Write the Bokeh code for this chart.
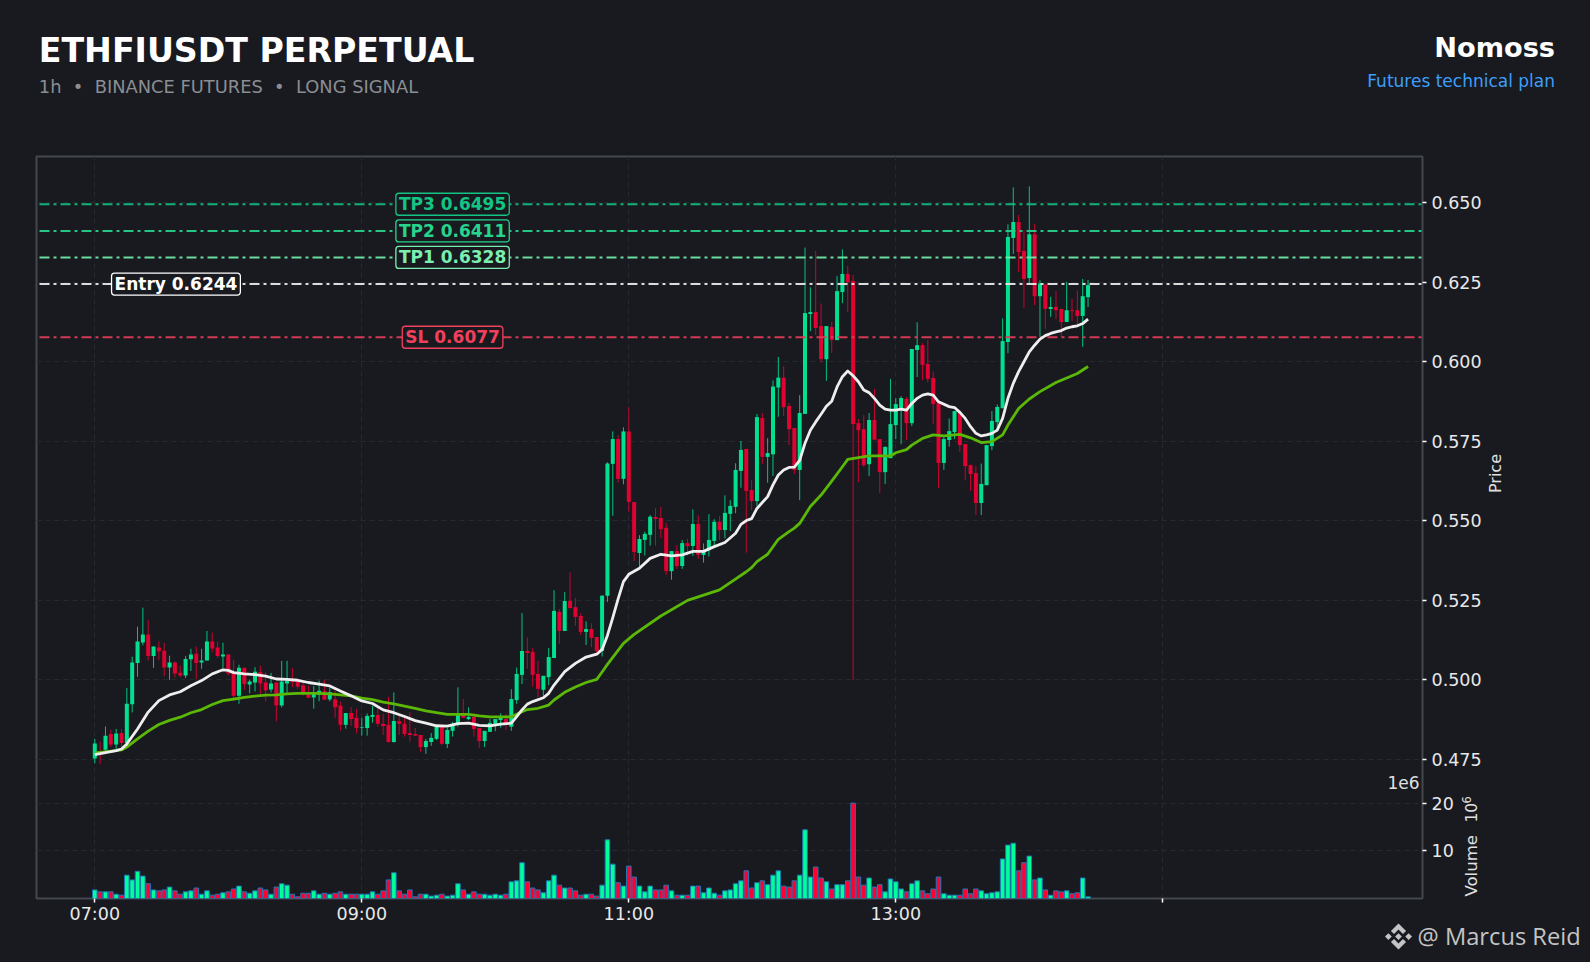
from bokeh.plotting import figure
from bokeh.models import Range1d, FixedTicker, Label, ColumnDataSource
from bokeh.embed import file_html
from bokeh.resources import INLINE

TITLE = "ETHFIUSDT PERPETUAL"
SUBTITLE = "1h\u00a0\u00a0•\u00a0\u00a0BINANCE FUTURES\u00a0\u00a0•\u00a0\u00a0LONG SIGNAL"
BRAND = "Nomoss"
BRAND_SUB = "Futures technical plan"
WATERMARK = "@ Marcus Reid"

x_ticks = [0, 50, 100, 150, 200]
x_tick_labels = ["07:00", "09:00", "11:00", "13:00", ""]
price_ticks = [0.475, 0.5, 0.525, 0.55, 0.575, 0.6, 0.625, 0.65]
volume_ticks = [10e6, 20e6]

# open, high, low, close
ohlc = [
(.4753,.4815,.4738,.4800),(.4776,.4806,.4735,.4768),(.4781,.4854,.4776,.4825),(.4830,.4843,.4789,.4797),
(.4797,.4846,.4783,.4832),(.4833,.4846,.4789,.4802),(.4802,.4975,.4799,.4925),(.4924,.5073,.4898,.5055),
(.5053,.5167,.5010,.5121),(.5118,.5227,.5109,.5143),(.5143,.5189,.5061,.5075),(.5075,.5105,.5038,.5105),
(.5102,.5121,.5062,.5090),(.5092,.5117,.5011,.5039),(.5039,.5076,.5000,.5055),(.5055,.5058,.5007,.5020),
(.5023,.5045,.5009,.5014),(.5014,.5075,.5006,.5066),(.5065,.5098,.5028,.5080),(.5082,.5105,.5002,.5053),
(.5055,.5098,.5035,.5061),(.5061,.5154,.5061,.5121),(.5121,.5149,.5087,.5099),(.5102,.5121,.5070,.5075),
(.5074,.5117,.5038,.5080),(.5080,.5080,.5014,.5020),(.5020,.5064,.4941,.4950),(.4950,.5048,.4925,.5038),
(.5038,.5038,.4969,.4987),(.4986,.5001,.4958,.4995),(.4992,.5040,.4964,.5026),(.5025,.5045,.4955,.4989),
(.4992,.5024,.4933,.4967),(.4970,.5022,.4961,.4989),(.4992,.4992,.4870,.4920),(.4920,.5060,.4914,.4995),
(.4989,.5060,.4959,.4998),(.5003,.5038,.4977,.4993),(.4994,.5003,.4972,.4979),(.4983,.4999,.4951,.4962),
(.4953,.4981,.4943,.4944),(.4945,.4981,.4910,.4962),(.4953,.4998,.4933,.4966),(.4966,.5001,.4937,.4938),
(.4939,.4975,.4933,.4962),(.4939,.4966,.4881,.4914),(.4919,.4932,.4841,.4859),(.4859,.4896,.4847,.4896),
(.4896,.4915,.4856,.4877),(.4881,.4909,.4832,.4849),(.4850,.4881,.4825,.4852),(.4849,.4895,.4825,.4887),
(.4884,.4918,.4866,.4890),(.4890,.4918,.4853,.4862),(.4862,.4893,.4827,.4855),(.4859,.4947,.4803,.4805),
(.4805,.4961,.4803,.4871),(.4871,.4887,.4827,.4862),(.4862,.4890,.4822,.4830),(.4833,.4899,.4806,.4827),
(.4830,.4849,.4824,.4825),(.4827,.4827,.4774,.4789),(.4789,.4815,.4768,.4808),(.4805,.4833,.4793,.4818),
(.4815,.4859,.4811,.4853),(.4852,.4859,.4796,.4799),(.4799,.4849,.4786,.4843),(.4840,.4868,.4822,.4862),
(.4862,.4977,.4853,.4890),(.4890,.4940,.4880,.4881),(.4877,.4914,.4874,.4884),(.4884,.4895,.4822,.4846),
(.4849,.4849,.4787,.4808),(.4808,.4840,.4789,.4840),(.4837,.4877,.4837,.4865),(.4862,.4877,.4839,.4877),
(.4874,.4895,.4850,.4881),(.4877,.4893,.4843,.4862),(.4853,.4971,.4840,.4940),(.4937,.5039,.4925,.5019),
(.5016,.5210,.4987,.5091),(.5091,.5134,.5035,.5085),(.5088,.5100,.4979,.5016),(.5019,.5060,.4946,.4972),
(.4969,.5013,.4950,.5013),(.5009,.5100,.4984,.5072),(.5069,.5282,.5069,.5217),(.5214,.5223,.5113,.5154),
(.5154,.5276,.5154,.5248),(.5248,.5338,.5224,.5226),(.5229,.5258,.5170,.5198),(.5201,.5210,.5141,.5151),
(.5151,.5184,.5110,.5160),(.5160,.5178,.5103,.5132),(.5135,.5135,.5084,.5091),(.5091,.5265,.5074,.5265),
(.5265,.5684,.5245,.5680),(.5679,.5781,.5516,.5757),(.5757,.5769,.5620,.5632),(.5632,.5794,.5615,.5781),
(.5781,.5857,.5529,.5560),(.5559,.5559,.5374,.5402),(.5399,.5455,.5356,.5443),(.5440,.5466,.5391,.5459),
(.5456,.5518,.5422,.5513),(.5512,.5540,.5422,.5506),(.5509,.5544,.5446,.5474),(.5478,.5493,.5330,.5342),
(.5342,.5405,.5315,.5405),(.5405,.5424,.5349,.5358),(.5358,.5440,.5349,.5430),(.5430,.5443,.5390,.5421),
(.5421,.5536,.5390,.5490),(.5490,.5517,.5380,.5393),(.5393,.5429,.5369,.5402),(.5408,.5521,.5388,.5440),
(.5437,.5505,.5421,.5497),(.5497,.5515,.5440,.5471),(.5471,.5580,.5445,.5525),(.5522,.5565,.5468,.5547),
(.5544,.5681,.5524,.5660),(.5657,.5751,.5604,.5723),(.5726,.5726,.5400,.5594),(.5597,.5628,.5534,.5562),
(.5562,.5836,.5547,.5826),(.5823,.5839,.5679,.5701),(.5701,.5760,.5620,.5713),(.5709,.5941,.5641,.5922),
(.5919,.6015,.5827,.5950),(.5950,.5986,.5830,.5857),(.5861,.5870,.5738,.5788),(.5792,.5792,.5647,.5660),
(.5660,.5895,.5565,.5839),(.5836,.6359,.5836,.6153),(.6150,.6234,.6096,.6156),(.6156,.6348,.6084,.6106),
(.6112,.6183,.5997,.6008),(.6008,.6112,.5940,.6112),(.6109,.6125,.6027,.6068),(.6068,.6269,.6068,.6222),
(.6219,.6353,.6184,.6276),(.6276,.6301,.6156,.6250),(.6254,.6273,.5000,.5804),(.5807,.5820,.5622,.5785),
(.5788,.5832,.5669,.5675),(.5678,.5839,.5641,.5817),(.5817,.5914,.5754,.5755),(.5757,.5757,.5587,.5653),
(.5653,.5735,.5616,.5732),(.5697,.5946,.5697,.5804),(.5801,.5886,.5757,.5867),(.5854,.5892,.5741,.5886),
(.5883,.5889,.5754,.5807),(.5807,.6040,.5798,.6040),(.6037,.6124,.5952,.6052),(.6052,.6058,.5942,.5990),
(.5993,.6068,.5935,.5946),(.5949,.5970,.5804,.5867),(.5870,.5870,.5603,.5682),(.5682,.5767,.5660,.5757),
(.5754,.5822,.5733,.5782),(.5779,.5845,.5757,.5845),(.5842,.5842,.5716,.5738),(.5741,.5741,.5628,.5672),
(.5675,.5677,.5594,.5647),(.5650,.5672,.5518,.5556),(.5556,.5680,.5518,.5616),(.5612,.5738,.5612,.5738),
(.5735,.5845,.5722,.5814),(.5810,.5866,.5780,.5858),(.5854,.6136,.5854,.6065),(.6062,.6432,.6027,.6392),
(.6389,.6548,.6339,.6439),(.6439,.6461,.6282,.6345),(.6348,.6414,.6169,.6260),(.6263,.6551,.6246,.6401),
(.6401,.6433,.6178,.6206),(.6206,.6256,.6078,.6246),(.6243,.6243,.6103,.6166),(.6166,.6204,.6141,.6172),
(.6172,.6222,.6134,.6162),(.6166,.6166,.6078,.6125),(.6125,.6251,.6125,.6162),(.6162,.6197,.6128,.6159),
(.6162,.6224,.6115,.6144),(.6144,.6260,.6047,.6206),(.6203,.6257,.6172,.6241),
]

volume_m = [
1.8,1.4,1.4,1.4,.9,.7,4.9,3.9,5.7,4.7,3.1,1.8,1.6,1.8,2.4,1.6,.9,1.4,1.6,2.2,
.9,1.6,.7,.9,1.2,1.4,2.0,2.6,1.4,1.1,1.6,2.2,1.8,.9,2.4,3.1,2.8,.9,.35,1.1,
1.1,1.6,.9,1.1,.9,1.1,1.4,.9,.9,.9,.9,.9,1.4,.9,1.6,3.9,5.4,1.6,.9,1.8,
.35,.9,.9,.5,.7,.9,.5,.7,3.1,1.8,.9,1.4,.9,.9,.7,.9,.7,.9,3.5,3.7,
7.5,3.5,2.2,1.8,1.2,3.7,4.9,2.8,2.2,2.2,1.6,.7,.9,.9,.5,2.8,12.3,7.2,3.3,2.6,
6.8,4.5,2.6,1.4,2.6,1.8,1.8,2.8,1.6,.7,.7,.7,2.6,2.6,1.2,2.2,1.1,.7,1.6,1.8,
3.1,3.7,5.8,2.2,3.3,3.7,2.9,4.9,5.8,2.6,2.4,3.7,4.9,14.4,4.5,6.6,4.3,3.5,2.0,2.9,
2.9,3.7,20.0,4.5,2.8,4.3,2.4,2.9,1.4,4.1,3.5,2.0,1.4,3.1,3.7,1.6,1.0,2.0,4.5,1.0,
.7,.7,.7,2.0,1.0,2.0,1.6,1.0,1.2,1.4,8.3,11.2,11.6,5.8,7.5,8.9,3.9,4.3,1.8,.7,
1.6,1.4,1.6,1.0,1.2,4.3,.35,
]

ema_fast_idx = [0,4,5,6,8,10,12,14,16,18,20,22,24,25,26,28,30,32,34,36,38,40,42,44,46,48,50,52,54,56,58,60,62,64,66,68,70,72,74,76,78,79,80,81,82,84,85,86,88,90,92,94,95,96,97,98,99,100,102,104,106,108,110,112,114,116,118,120,121,122,123,124,126,127,128,129,130,131,132,133,134,135,136,137,138,139,140,141,142,143,144,145,146,147,148,149,150,151,152,153,154,155,156,157,158,160,161,162,163,164,165,166,167,168,169,170,171,172,173,174,175,176,177,178,179,180,181,182,183,184,185,186]
ema_fast = [.4765,.4778,.4783,.4799,.4846,.4899,.4935,.4953,.4963,.4982,.4998,.5019,.5032,.5030,.5023,.5019,.5017,.5012,.5003,.5002,.4999,.4992,.4987,.4981,.4965,.4950,.4934,.4926,.4906,.4897,.4885,.4872,.4864,.4856,.4855,.4863,.4864,.4857,.4856,.4861,.4864,.4885,.4906,.4924,.4932,.4944,.4958,.4984,.5026,.5052,.5072,.5081,.5096,.5140,.5196,.5255,.5309,.5332,.5351,.5382,.5395,.5390,.5393,.5404,.5404,.5419,.5432,.5461,.5489,.5501,.5507,.5539,.5576,.5613,.5644,.5660,.5668,.5669,.5690,.5744,.5785,.5811,.5835,.5860,.5876,.5921,.5953,.5971,.5956,.5937,.5911,.5903,.5885,.5864,.5851,.5848,.5848,.5851,.5848,.5869,.5885,.5895,.5899,.5895,.5874,.5859,.5856,.5841,.5822,.5796,.5775,.5767,.5770,.5775,.5785,.5822,.5885,.5932,.5969,.6000,.6031,.6052,.6071,.6082,.6089,.6094,.6098,.6106,.6110,.6113,.6120,.6134]

ema_slow_idx = [0,4,5,6,8,10,12,14,16,18,20,22,24,26,28,30,32,34,36,38,40,42,44,46,48,50,52,54,56,58,60,62,64,66,68,70,72,74,76,78,79,80,81,83,85,86,88,90,92,94,95,96,99,101,106,111,117,119,122,123,124,126,128,130,131,132,134,136,138,140,141,143,145,147,149,150,152,153,155,157,159,162,164,166,168,170,171,173,175,177,180,184,186]
ema_slow = [.4771,.4778,.4780,.4789,.4815,.4839,.4860,.4873,.4883,.4897,.4907,.4923,.4935,.4940,.4945,.4949,.4952,.4953,.4956,.4958,.4958,.4958,.4956,.4953,.4950,.4943,.4938,.4930,.4925,.4918,.4911,.4903,.4897,.4892,.4892,.4892,.4887,.4884,.4884,.4884,.4892,.4900,.4907,.4911,.4921,.4937,.4961,.4978,.4992,.5002,.5025,.5049,.5115,.5143,.5201,.5250,.5283,.5306,.5340,.5353,.5372,.5395,.5442,.5466,.5477,.5492,.5545,.5581,.5625,.5670,.5693,.5699,.5704,.5704,.5704,.5714,.5724,.5738,.5759,.5770,.5767,.5772,.5761,.5746,.5749,.5770,.5801,.5853,.5883,.5906,.5935,.5963,.5985]

level_names = ["TP3", "TP2", "TP1", "Entry", "SL"]
level_prices = [0.6495, 0.6411, 0.6328, 0.6244, 0.6077]
level_colors = ["#13B97E", "#27CF8A", "#6FE8A6", "#E6E6E6", "#DD3C56"]
level_label_colors = ["#13C584", "#27D48E", "#7CEFB0", "#FFFFFF", "#F0405C"]
level_label_x = [67.0, 67.0, 67.0, 15.2, 67.0]

BG = "#181A20"
UP = "#02E08F"; DOWN = "#E00231"
VUP = "#00FF9A"; VDOWN = "#FF0033"

# layout of the frame, page pixels
W, H = 1590, 962
FL, FT, FR, FB = 36, 156, 1422, 898
PX_X = 5.34; PX_Y = 3182.0
x_start = -(94.3 - FL) / PX_X
x_end = (FR - 94.3) / PX_X
y_end = 0.475 + (759 - FT) / PX_Y
y_start = 0.475 - (FB - 759) / PX_Y
vol_end = (FB - FT) / 4.77 * 1e6

def vol_as_price(v): return round(y_start + v / vol_end * (y_end - y_start), 7)

p = figure(width=W, height=H, output_backend="svg", toolbar_location=None,
           x_range=Range1d(x_start, x_end), y_range=Range1d(y_start, y_end),
           y_axis_location="right", background_fill_color=BG, border_fill_color=BG,
           min_border_left=FL, min_border_top=FT, min_border_right=W - FR, min_border_bottom=H - FB)
p.extra_y_ranges = {"vol": Range1d(0, vol_end)}
p.outline_line_color = "#43474E"; p.outline_line_width = 2

ax = p.xaxis[0]
ax.ticker = FixedTicker(ticks=x_ticks)
ax.major_label_overrides = dict(zip(x_ticks, x_tick_labels))
ay = p.yaxis[0]
ytick_pos = [vol_as_price(v) for v in volume_ticks] + price_ticks
ytick_lab = {vol_as_price(v): f"{v/1e6:.0f}" for v in volume_ticks}
ytick_lab.update({t: f"{t:.3f}" for t in price_ticks})
ay.ticker = FixedTicker(ticks=ytick_pos)
ay.major_label_overrides = ytick_lab
for a in (ax, ay):
    a.axis_line_color = None
    a.major_tick_line_color = "#FFFFFF"; a.major_tick_line_width = 1.5
    a.major_tick_in = 0; a.major_tick_out = 4
    a.minor_tick_line_color = None
    a.major_label_text_color = "#E8E8E8"
    a.major_label_text_font = "DejaVu Sans"
    a.major_label_text_font_size = "17.5px"
ax.major_label_standoff = 1
ay.major_label_standoff = 5
for g, t in ((p.xgrid[0], x_ticks), (p.ygrid[0], ytick_pos)):
    g.ticker = FixedTicker(ticks=t)
    g.grid_line_color = "#26292F"; g.grid_line_dash = "5 4"; g.grid_line_width = 1

n = len(ohlc)
idx = list(range(n))
opens = [r[0] for r in ohlc]; highs = [r[1] for r in ohlc]; lows = [r[2] for r in ohlc]; closes = [r[3] for r in ohlc]
is_up = [c >= o for o, c in zip(opens, closes)]
src = ColumnDataSource(dict(
    x=idx, high=highs, low=lows,
    top=[max(o, c) for o, c in zip(opens, closes)],
    bottom=[min(o, c) for o, c in zip(opens, closes)],
    color=[UP if u else DOWN for u in is_up],
    vcolor=[VUP if u else VDOWN for u in is_up],
    vol=[v * 1e6 for v in volume_m],
))
p.vbar(x="x", width=0.85, bottom=0, top="vol", fill_color="vcolor", line_color="#1F77B4", line_width=1,
       y_range_name="vol", source=src)
p.segment(x0="x", x1="x", y0="low", y1="high", line_color="color", line_width=1, line_alpha=0.85, source=src)
p.vbar(x="x", width=0.75, bottom="bottom", top="top", fill_color="color", line_color=None, source=src)

line_start = x_start + 3 / PX_X
for lv, col in zip(level_prices, level_colors):
    p.line([line_start, x_end], [lv, lv], line_color=col, line_width=2, line_dash="10 4 3 4", line_alpha=0.95)

p.line(ema_slow_idx, ema_slow, line_color="#5BB807", line_width=2.8, line_join="round")
p.line(ema_fast_idx, ema_fast, line_color="#EEEEEE", line_width=2.8, line_join="round")

for name, lv, col, tc, lx in zip(level_names, level_prices, level_colors, level_label_colors, level_label_x):
    p.add_layout(Label(x=lx, y=lv, text=f"{name} {lv:.4f}", text_color=tc, text_font="DejaVu Sans",
                       text_font_style="bold", text_font_size="17px", text_align="center", text_baseline="middle",
                       background_fill_color=BG, border_line_color=tc, border_line_width=1.3,
                       border_radius=3, padding=(3, 1)))

# transparent page-sized figure for everything outside the plot frame
q = figure(width=W, height=H, output_backend="svg", toolbar_location=None,
           x_range=Range1d(0, W), y_range=Range1d(H, 0), x_axis_type=None, y_axis_type=None,
           background_fill_color=None, border_fill_color=None, outline_line_color=None,
           min_border=0, min_border_left=0, min_border_right=0, min_border_top=0, min_border_bottom=0)
q.grid.visible = False

def txt(x, y, s, size, color, bold=False, align="left", font="DejaVu Sans", angle=0):
    q.add_layout(Label(x=x, y=y, text=s, text_color=color, text_font=font,
                       text_font_style="bold" if bold else "normal", text_font_size=size,
                       text_align=align, text_baseline="middle", angle=angle, angle_units="deg"))

txt(38.3, 50, TITLE, "33.2px", "#FFFFFF", bold=True)
txt(38.3, 86, SUBTITLE, "17.85px", "#8B8E92")
txt(1554.5, 46.6, BRAND, "27.2px", "#FFFFFF", bold=True, align="right")
txt(1554.5, 80, BRAND_SUB, "17px", "#3E9EFA", align="right")
txt(1419, 782, "1e6", "17px", "#E0E0E0", align="right")
txt(1494.7, 473, "Price", "16px", "#E0E0E0", align="center", angle=90)
txt(1470.7, 896, "Volume", "16.5px", "#E0E0E0", angle=90)
txt(1470.7, 822, "10", "15.5px", "#E0E0E0", angle=90)
txt(1465.5, 803, "6", "11.5px", "#E0E0E0", angle=90)
txt(1417, 935, WATERMARK, "23.7px", "#C4C4C4", font="Open Sans")

LOGO_X, LOGO_Y, LOGO_R = 1398, 936, 13.5
logo = [
    [(0, .25), (.25, 0), (0, -.25), (-.25, 0)],
    [(.75, .25), (1, 0), (.75, -.25), (.5, 0)],
    [(-.75, .25), (-.5, 0), (-.75, -.25), (-1, 0)],
    [(-.56, .41), (0, .97), (.56, .41), (.33, .18), (0, .51), (-.33, .18)],
    [(-.56, -.41), (0, -.97), (.56, -.41), (.33, -.18), (0, -.51), (-.33, -.18)],
]
q.patches([[LOGO_X + a * LOGO_R for a, b in poly] for poly in logo],
          [[LOGO_Y - b * LOGO_R for a, b in poly] for poly in logo],
          fill_color="#C4C4C4", line_color=None)

html = file_html([p, q], INLINE)
css = ("<style>html,body{background:%s;overflow:hidden;}"
       "div[data-root-id]{display:block!important;position:absolute!important;left:0;top:0;}</style></head>" % BG)
html = html.replace("</head>", css, 1)
open("out.html", "w").write(html)
